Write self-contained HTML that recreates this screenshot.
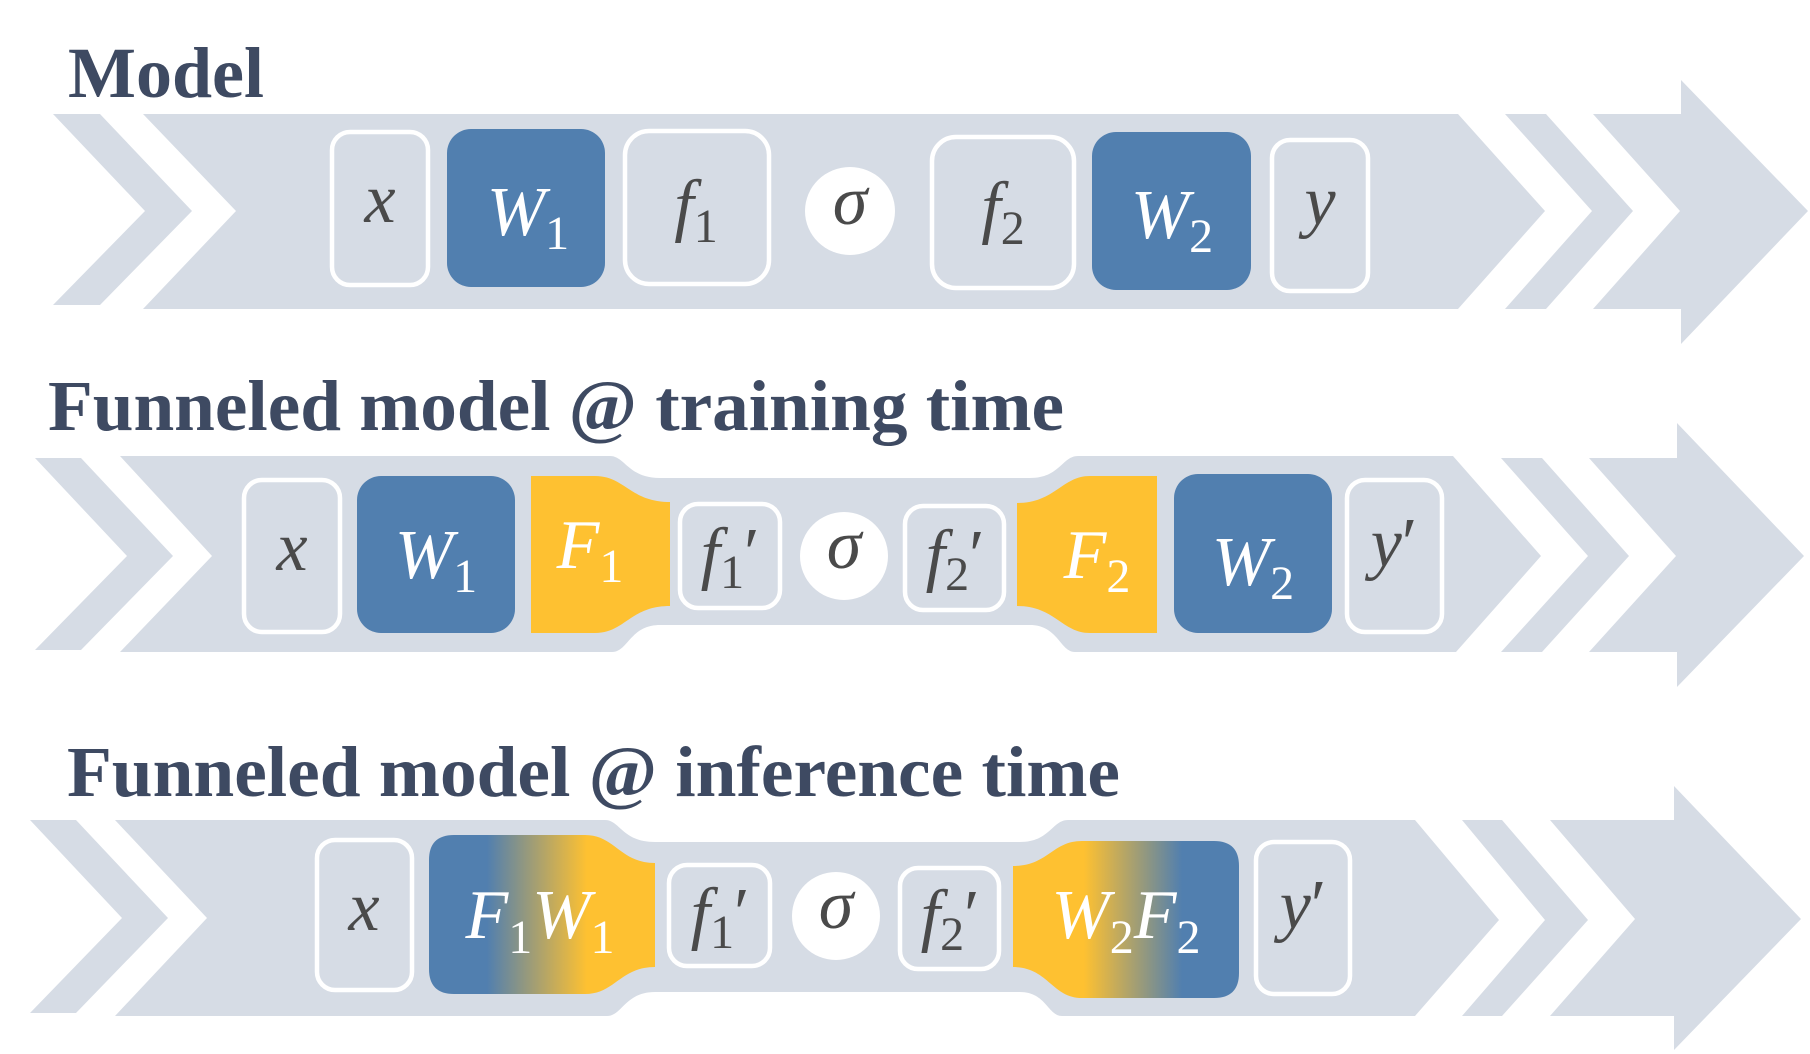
<!DOCTYPE html>
<html><head><meta charset="utf-8"><style>
html,body{margin:0;padding:0;background:#fff;}
svg{display:block;}
.t{font-family:"Liberation Serif",serif;font-weight:bold;fill:#3e4a62;font-size:72px;}
.m{font-family:"Liberation Serif",serif;font-style:italic;font-size:70px;fill:#4a4a4a;}
.w{fill:#fff;}
.s{font-style:normal;font-size:48px;}
</style></head><body>
<svg width="1810" height="1054" viewBox="0 0 1810 1054" xmlns="http://www.w3.org/2000/svg">
<defs>
<linearGradient id="g1" gradientUnits="userSpaceOnUse" x1="487" y1="0" x2="587" y2="0"><stop offset="0" stop-color="#517faf"/><stop offset="1" stop-color="#fec131"/></linearGradient>
<linearGradient id="g2" gradientUnits="userSpaceOnUse" x1="1084" y1="0" x2="1182" y2="0"><stop offset="0" stop-color="#fec131"/><stop offset="1" stop-color="#517faf"/></linearGradient>
</defs>
<g fill="#d6dce5">
<polygon points="53,114 100,114 192,211 100,305 53,305 145,211"/>
<polygon points="143,114 1458,114 1545,211 1458,309 143,309 236,211"/>
<polygon points="1505,114 1546,114 1633,211 1546,309 1505,309 1592,211"/>
<polygon points="1593,114 1681,114 1681,80 1808,211 1681,344 1681,309 1593,309 1680,211"/>
<polygon points="35,458 81,458 173,556 81,650 35,650 127,556"/>
<path d="M120,456 H610 C625,456 628,478 660,478 H1030 C1060,478 1062,456 1078,456 H1453 L1541,556 L1456,652 H1075 C1060,652 1058,625 1030,625 H660 C630,625 628,652 612,652 H120 L212,556 Z"/>
<polygon points="1501,458 1542,458 1629,556 1542,652 1501,652 1588,556"/>
<polygon points="1589,458 1677,458 1677,423 1804,556 1677,687 1677,652 1589,652 1676,556"/>
<polygon points="30,820 76,820 168,918 76,1013 30,1013 122,918"/>
<path d="M115,820 H605 C620,820 622,842 655,842 H1020 C1050,842 1052,820 1068,820 H1415 L1499,920 L1415,1016 H1062 C1048,1016 1046,992 1020,992 H655 C625,992 622,1016 607,1016 H115 L207,918 Z"/>
<polygon points="1462,820 1502,820 1588,920 1502,1016 1462,1016 1545,920"/>
<polygon points="1550,820 1674,820 1674,786 1801,919 1674,1050 1674,1016 1550,1016 1635,919"/>
</g>

<text class="t" x="68" y="97">Model</text>
<text class="t" x="48" y="430" textLength="1016" lengthAdjust="spacingAndGlyphs">Funneled model @ training time</text>
<text class="t" x="67" y="796" textLength="1053" lengthAdjust="spacingAndGlyphs">Funneled model @ inference time</text>

<g stroke="#fff" stroke-width="4.5" fill="#d6dce5">
<rect x="332" y="132" width="96" height="153" rx="18"/>
<rect x="625" y="131" width="144" height="153" rx="24"/>
<rect x="932" y="137" width="142" height="151" rx="24"/>
<rect x="1272" y="140" width="96" height="151" rx="18"/>
<rect x="244" y="480" width="96" height="152" rx="18"/>
<rect x="680" y="504" width="100" height="104" rx="18"/>
<rect x="905" y="506" width="99" height="104" rx="18"/>
<rect x="1347" y="480" width="95" height="152" rx="18"/>
<rect x="317" y="840" width="95" height="150" rx="18"/>
<rect x="669" y="865" width="101" height="101" rx="18"/>
<rect x="900" y="868" width="99" height="101" rx="18"/>
<rect x="1256" y="842" width="94" height="152" rx="18"/>
</g>
<g fill="#517faf">
<rect x="447" y="129" width="158" height="158" rx="24"/>
<rect x="1092" y="132" width="159" height="158" rx="24"/>
<rect x="357" y="476" width="158" height="157" rx="24"/>
<rect x="1174" y="474" width="158" height="159" rx="24"/>
</g>
<g fill="#fff">
<ellipse cx="850" cy="211" rx="45" ry="44"/>
<circle cx="844" cy="556" r="44"/>
<circle cx="836" cy="916" r="44"/>
</g>
<g fill="#fec131">
<path d="M531,476 H595 C625,476 630,502 670,502 V606 C630,606 625,633 595,633 H531 Z"/>
<path d="M1017,503 C1055,503 1062,476 1090,476 H1157 V633 H1090 C1062,633 1055,606 1017,606 Z"/>
</g>
<path fill="url(#g1)" d="M454,835 H585 C615,835 620,863 655,863 V967 C620,967 615,994 585,994 H454 Q429,994 429,969 V860 Q429,835 454,835 Z"/>
<path fill="url(#g2)" d="M1013,866 C1048,866 1052,841 1082,841 H1214 Q1239,841 1239,866 V973 Q1239,998 1214,998 H1082 C1052,998 1048,967 1013,967 Z"/>

<g text-anchor="middle">
<text class="m" x="380" y="222">x</text>
<text class="m w" x="528" y="235">W<tspan class="s" dy="14">1</tspan></text>
<text class="m" x="696" y="228" font-size="74">f<tspan class="s" dy="14">1</tspan></text>
<text class="m" x="850" y="224">σ</text>
<text class="m" x="1003" y="230" font-size="74">f<tspan class="s" dy="14">2</tspan></text>
<text class="m w" x="1172" y="238">W<tspan class="s" dy="14">2</tspan></text>
<text class="m" x="1320" y="224">y</text>

<text class="m" x="292" y="570">x</text>
<text class="m w" x="436" y="578">W<tspan class="s" dy="14">1</tspan></text>
<text class="m w" x="590" y="568">F<tspan class="s" dy="14">1</tspan></text>
<text class="m" x="730" y="576" font-size="66">f<tspan class="s" dy="12">1</tspan><tspan font-style="normal" dy="-12">′</tspan></text>
<text class="m" x="844" y="568">σ</text>
<text class="m" x="955" y="578" font-size="66">f<tspan class="s" dy="12">2</tspan><tspan font-style="normal" dy="-12">′</tspan></text>
<text class="m w" x="1097" y="578">F<tspan class="s" dy="14">2</tspan></text>
<text class="m w" x="1253" y="585">W<tspan class="s" dy="14">2</tspan></text>
<text class="m" x="1394" y="566">y<tspan font-style="normal">′</tspan></text>

<text class="m" x="364" y="930">x</text>
<text class="m w" x="540" y="938">F<tspan class="s" dy="15">1</tspan><tspan dy="-15">W</tspan><tspan class="s" dy="15">1</tspan></text>
<text class="m" x="720" y="936" font-size="66">f<tspan class="s" dy="12">1</tspan><tspan font-style="normal" dy="-12">′</tspan></text>
<text class="m" x="836" y="928">σ</text>
<text class="m" x="950" y="938" font-size="66">f<tspan class="s" dy="12">2</tspan><tspan font-style="normal" dy="-12">′</tspan></text>
<text class="m w" x="1126" y="938">W<tspan class="s" dy="15">2</tspan><tspan dy="-15">F</tspan><tspan class="s" dy="15">2</tspan></text>
<text class="m" x="1303" y="928">y<tspan font-style="normal">′</tspan></text>
</g>
</svg>
</body></html>
